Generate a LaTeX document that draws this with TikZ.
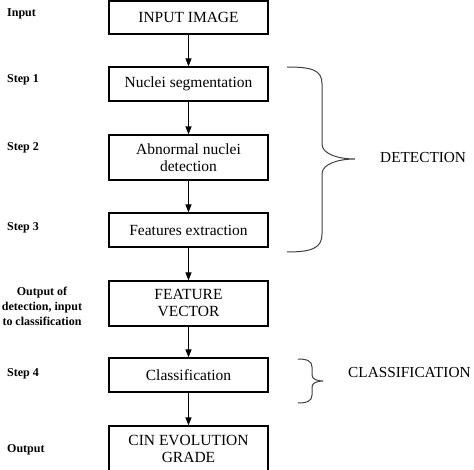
\documentclass[tikz,border=0pt]{standalone}
\usepackage{fontspec}
\setmainfont{Liberation Serif}
\usetikzlibrary{arrows.meta}
\begin{document}
\begin{tikzpicture}[x=1pt,y=-1pt,
  box/.style={draw=black,line width=1.3pt,minimum width=159pt,inner sep=0pt,align=center,font=\fontsize{15.5}{17}\selectfont},
  lbl/.style={font=\bfseries\fontsize{12}{15}\selectfont,align=center,inner sep=0pt},
  arr/.style={draw=black,line width=1.3pt,-{Triangle[length=8pt,width=6pt]}},
  brc/.style={draw=black!75,line width=1pt},
  big/.style={font=\fontsize{15.3}{17}\selectfont,inner sep=0pt,anchor=west}]
\useasboundingbox (0,0) rectangle (474,470);
\node[box,minimum height=33pt] (in) at (188.5,17.5) {INPUT IMAGE};
\node[box,minimum height=34pt] (seg) at (188.5,84) {Nuclei segmentation};
\node[box,minimum height=45pt] (abn) at (188.5,157.5) {Abnormal nuclei\\detection};
\node[box,minimum height=34pt] (feat) at (188.5,230) {Features extraction};
\node[box,minimum height=45pt] (fv) at (188.5,303.5) {FEATURE\\VECTOR};
\node[box,minimum height=34pt] (cls) at (188.5,375) {Classification};
\node[box,minimum height=46pt] (cin) at (188.5,449) {CIN EVOLUTION\\GRADE};
\draw[arr] (in) -- (seg);
\draw[arr] (seg) -- (abn);
\draw[arr] (abn) -- (feat);
\draw[arr] (feat) -- (fv);
\draw[arr] (fv) -- (cls);
\draw[arr] (cls) -- (cin);
\node[lbl,anchor=west] (l0) at (7,14) {Input};
\node[lbl,anchor=west] (l1) at (7,80) {Step 1};
\node[lbl,anchor=west] (l2) at (7,148) {Step 2};
\node[lbl,anchor=west] (l3) at (7,228) {Step 3};
\node[lbl] (l4) at (42,306) {Output of\\detection, input\\to classification};
\node[lbl,anchor=west] (l5) at (7,374) {Step 4};
\node[lbl,anchor=west] (l6) at (7,450) {Output};
\coordinate (b1s) at (287,67);
\coordinate (b1t) at (355,159);
\coordinate (b1e) at (287,252);
\draw[brc] (b1s) .. controls (312,67) and (322,70) .. (322,84)
  -- (322,144) .. controls (322,154) and (338,159) .. (b1t)
  .. controls (338,159) and (322,164) .. (322,174)
  -- (322,234) .. controls (322,248) and (312,252) .. (b1e);
\node[big] (det) at (380,158) {DETECTION};
\coordinate (b2s) at (298,359);
\coordinate (b2t) at (323,381);
\coordinate (b2e) at (298,403);
\draw[brc] (b2s) .. controls (307,359) and (312,361) .. (312,367)
  -- (312,375) .. controls (312,379) and (317,381) .. (b2t)
  .. controls (317,381) and (312,383) .. (312,387)
  -- (312,395) .. controls (312,401) and (307,403) .. (b2e);
\node[big] (cl) at (348,373) {CLASSIFICATION};
\end{tikzpicture}
\end{document}
